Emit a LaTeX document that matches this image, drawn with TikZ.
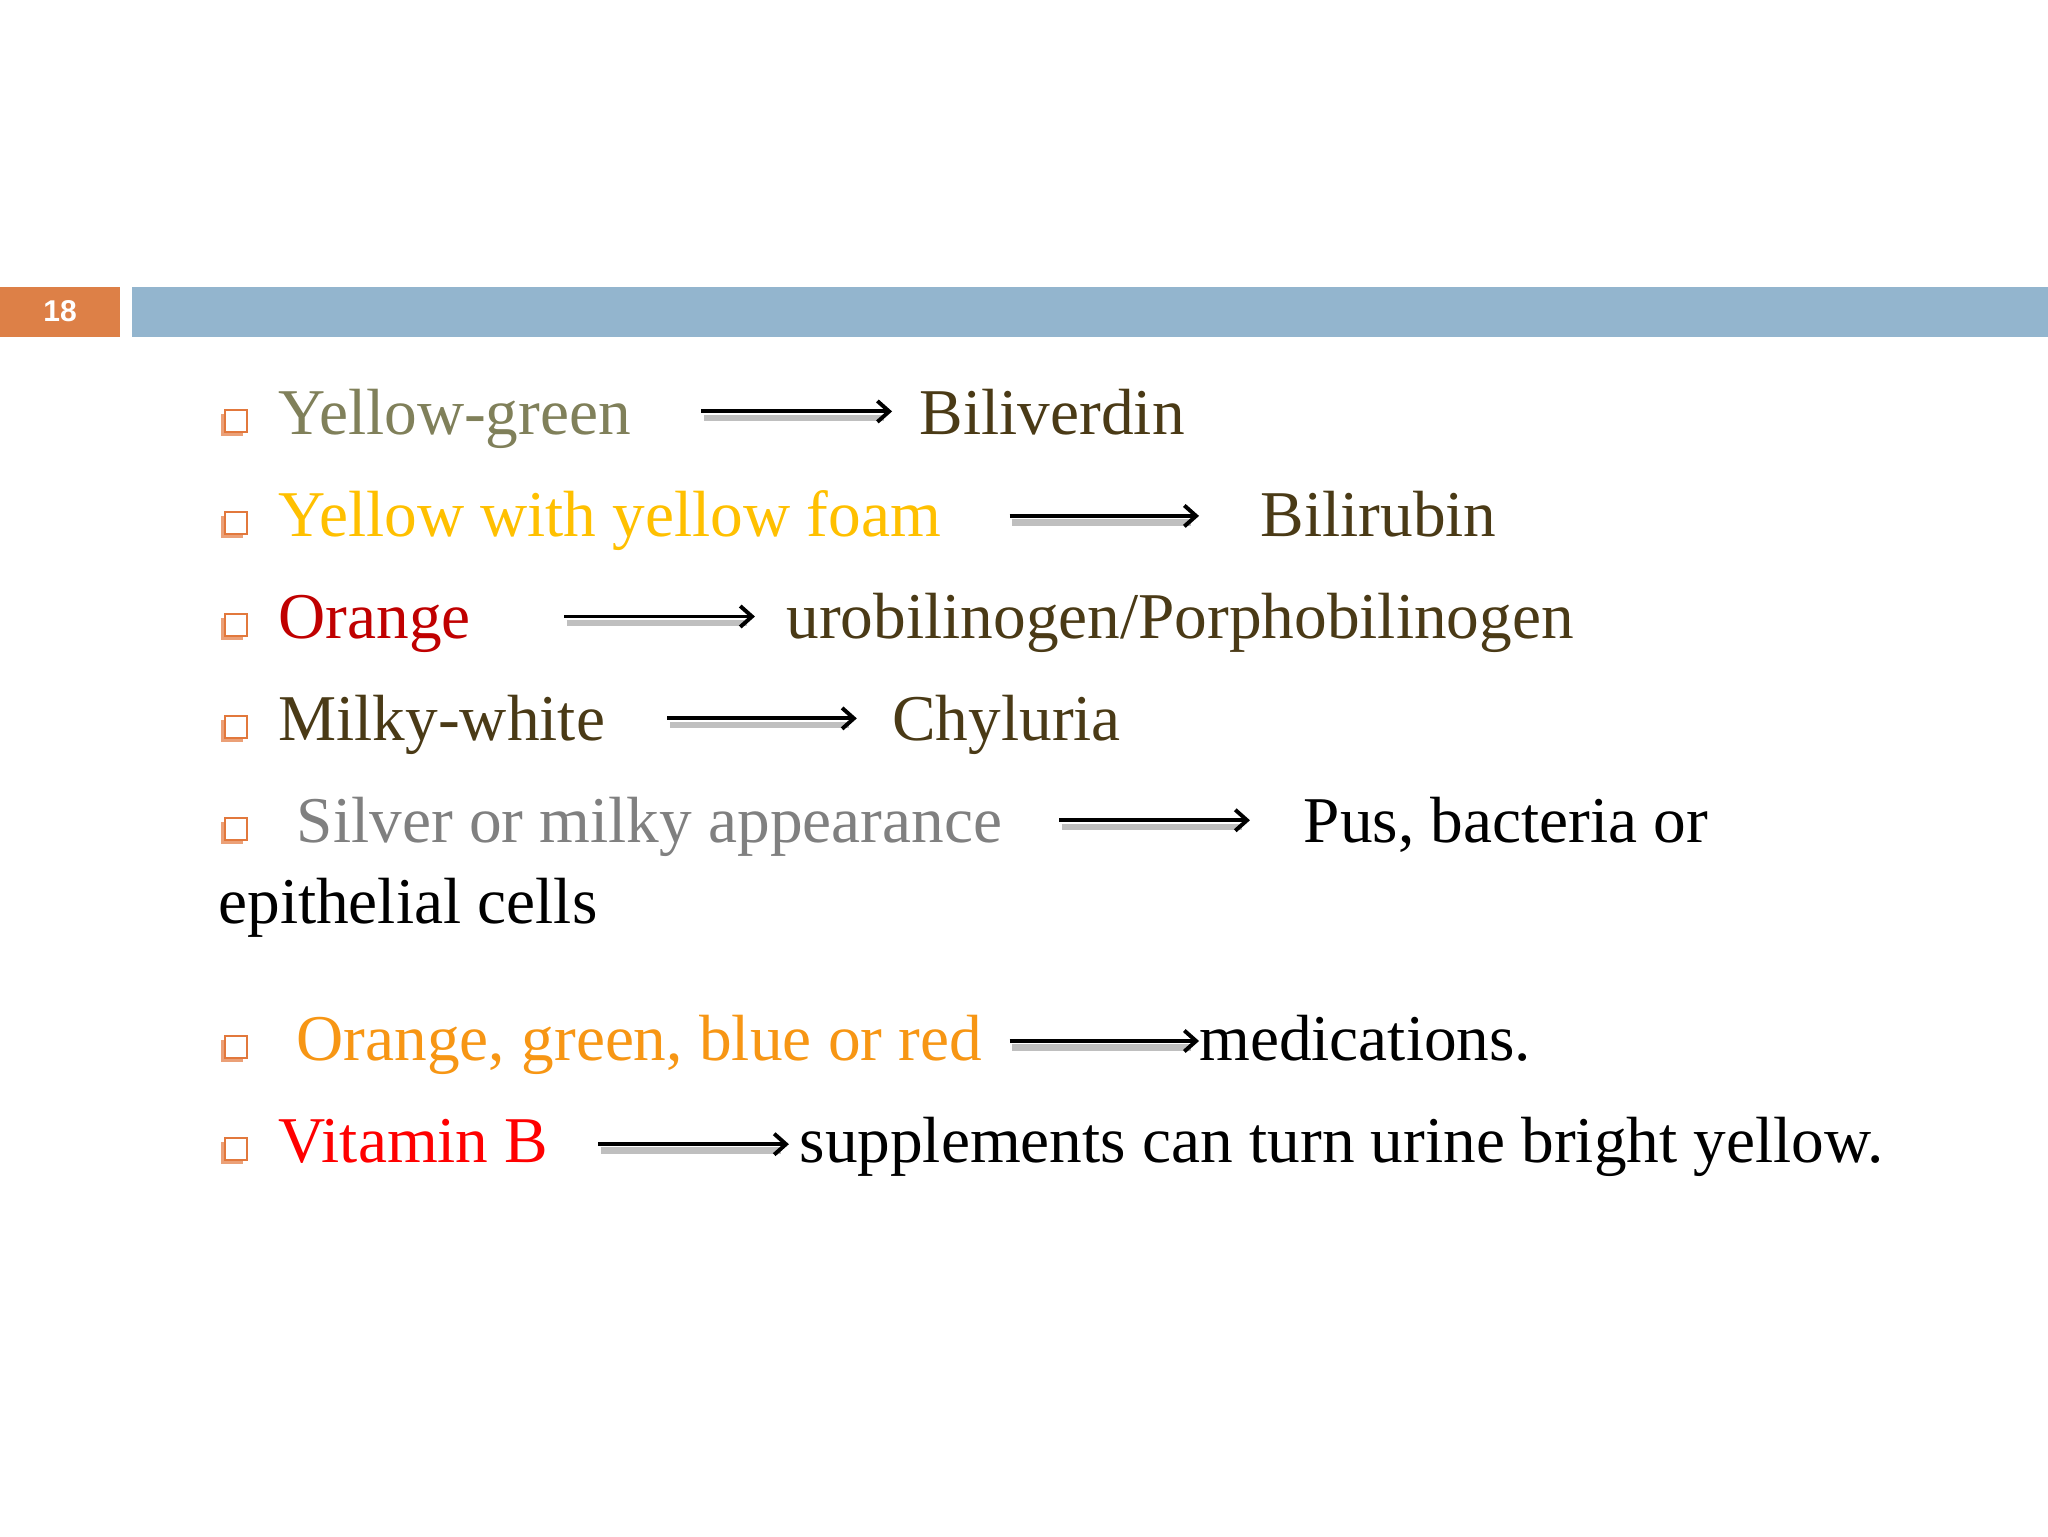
\documentclass[tikz,border=0pt]{standalone}
\usepackage{fontspec}
\usetikzlibrary{arrows.meta}
\setmainfont{Liberation Serif}
\newfontfamily\numfont{Liberation Sans}
\definecolor{cOrangeBox}{RGB}{221,128,71}
\definecolor{cBlueBar}{RGB}{147,181,206}
\definecolor{cOlive}{RGB}{128,128,90}
\definecolor{cGold}{RGB}{255,192,0}
\definecolor{cDarkRed}{RGB}{192,0,0}
\definecolor{cBrown}{RGB}{74,58,22}
\definecolor{cGray}{RGB}{128,128,128}
\definecolor{cOrange}{RGB}{247,150,20}
\definecolor{cRed}{RGB}{255,0,0}
\definecolor{cBullet}{RGB}{226,120,60}
\begin{document}
\begin{tikzpicture}[x=1pt,y=-1pt,
  txt/.style={anchor=base west,inner sep=0pt,font=\fontsize{50}{56}\selectfont},
  arr/.style={line width=3pt,-{Straight Barb[length=9pt,width=16pt,line width=3pt]}}]
\useasboundingbox (0,0) rectangle (1568,1176);
\fill[white] (0,0) rectangle (1568,1176);
\fill[cOrangeBox] (0,220) rectangle (92,258);
\fill[cBlueBar] (101,220) rectangle (1568,258);
\node[font=\numfont\bfseries\fontsize{23}{26}\selectfont,text=white] (num) at (46,238) {18};
\foreach \b in {333,411,489,567,645,812,890}{
  \fill[cBullet!70] (169,\b-16) rectangle (186,\b+1);
  \filldraw[fill=white,draw=cBullet,line width=1.6pt] (172,\b-19) rectangle (189,\b-2);
}
% texts
\node[txt,text=cOlive] (l1) at (213,333) {Yellow-green};
\node[txt,text=cBrown] (r1) at (704,333) {Biliverdin};
\node[txt,text=cGold] (l2) at (213,411) {Yellow with yellow foam};
\node[txt,text=cBrown] (r2) at (965,411) {Bilirubin};
\node[txt,text=cDarkRed] (l3) at (213,489) {Orange};
\node[txt,text=cBrown] (r3) at (602,489) {urobilinogen/Porphobilinogen};
\node[txt,text=cBrown] (l4) at (213,567) {Milky-white};
\node[txt,text=cBrown] (r4) at (683,567) {Chyluria};
\node[txt,text=cGray] (l5) at (227,645) {Silver or milky appearance};
\node[txt,text=black] (r5) at (998,645) {Pus, bacteria or};
\node[txt,text=black] (r5b) at (167,707) {epithelial cells};
\node[txt,text=cOrange] (l6) at (227,812) {Orange, green, blue or red};
\node[txt,text=black] (r6) at (918,812) {medications.};
\node[txt,text=cRed] (l7) at (213,890) {Vitamin B};
\node[txt,text=black] (r7) at (612,890) {supplements can turn urine bright yellow.};
% arrows
\foreach \n/\xa/\xb/\y in {1/537/683/315,2/773/918/395,3/432/578/472,4/511/656/550,5/811/957/628,6/773/918/797,7/458/604/876}{
  \coordinate (a\n) at (\xa,\y); \coordinate (b\n) at (\xb,\y);
  \draw[black!25,line width=5pt] ([shift={(2,5)}]a\n) -- ([shift={(-6,5)}]b\n);
  \draw[arr] (a\n) -- (b\n);
}
\end{tikzpicture}
\end{document}
